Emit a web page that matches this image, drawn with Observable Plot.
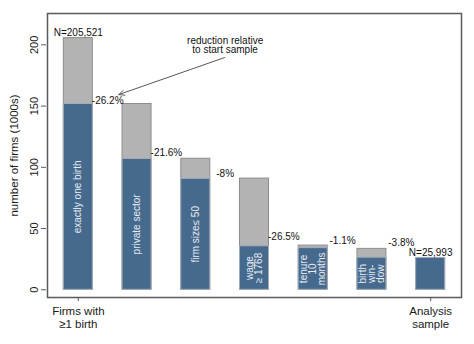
<!DOCTYPE html>
<html><head><meta charset="utf-8">
<script src="https://cdn.jsdelivr.net/npm/d3@7"></script>
<script src="https://cdn.jsdelivr.net/npm/@observablehq/plot@0.6"></script>
<style>
body{margin:0;background:#fff}
svg{font-family:"Liberation Sans",Arial,Helvetica,sans-serif}
</style>
</head><body><div id="chart"></div>
<script>
// Data (values in 1000s of firms)
const steps = ["exactly one birth", "private sector", "firm size≤ 50", "wage\n≥ 1768", "tenure\n10\nmonths", "birth\nwin-\ndow", ""];
const totals = [205.5, 151.7, 107.0, 90.8, 36.1, 33.4, 26.0];
const remaining = [151.7, 106.8, 90.6, 35.5, 34.0, 26.2, 26.0];
const reductions = ["-26.2%", "-21.6%", "-8%", "-26.5%", "-1.1%", "-3.8%"];
// height (in 1000s) at which each reduction label sits
const reductionLabelAt = [154.5, 111.7, 94.9, 43.5, 40.2, 38.6];
const nLabels = ["N=205,521", "", "", "", "", "", "N=25,993"];
const xTickLabels = ["Firms with\n≥1 birth", "Analysis\nsample"];
const yTicks = [0, 50, 100, 150, 200];
const yTitle = "number of firms (1000s)";
const noteText = "reduction relative\nto start sample";
// annotation anchor points (data units)
const note = {x: 2.5, y: 199.5};
const arrowFrom = {x: 2.49, y: 189.6};
const arrowTo = {x: 0.69, y: 159.4};

const rows = totals.map((t, i) => ({i, total: t, remaining: remaining[i], step: steps[i], n: nLabels[i]}));
const gaps = reductions.map((r, i) => ({x: i + 0.5, y: reductionLabelAt[i], label: r}));
const hw = 0.247;

const chart = Plot.plot({
  width: 474, height: 344,
  marginLeft: 47, marginRight: 13, marginTop: 13, marginBottom: 47,
  x: {domain: [-0.525, 6.525]},
  y: {domain: [-6.3, 225.6]},
  style: {fontFamily: '"Liberation Sans", Arial, sans-serif', color: "#1a1a1a", background: "white"},
  marks: [
    Plot.rectY(rows, {x1: d => d.i - hw, x2: d => d.i + hw, y1: d => 0, y2: "total", fill: "#b3b3b3", stroke: "#8e8e8e", strokeWidth: 1}),
    Plot.rectY(rows, {x1: d => d.i - hw, x2: d => d.i + hw, y1: d => 0, y2: "remaining", fill: "#46698e", stroke: "#a2acb7", strokeWidth: 1}),
    Plot.text(rows, {x: "i", y: d => d.remaining / 2, text: "step", rotate: -90, fill: "#e8edf2", fontSize: 10, lineHeight: 0.9}),
    Plot.text(rows, {x: "i", y: "total", text: "n", lineAnchor: "bottom", dy: -2, fontSize: 10, fill: "#111"}),
    Plot.text(gaps, {x: "x", y: "y", text: "label", fontSize: 10, fill: "#111"}),
    Plot.text([note], {x: "x", y: "y", text: d => noteText, fontSize: 10, lineHeight: 0.97, fill: "#111"}),
    Plot.arrow([0], {x1: d => arrowFrom.x, y1: d => arrowFrom.y, x2: d => arrowTo.x, y2: d => arrowTo.y, stroke: "#555", strokeWidth: 1, headLength: 9, headAngle: 50}),
    Plot.frame({stroke: "#5a5a5a", strokeWidth: 1.5}),
    Plot.axisY({ticks: yTicks, tickSize: 5, tickRotate: -90, fontSize: 11, label: null, stroke: "#5a5a5a", dx: -1}),
    Plot.text([yTitle], {frameAnchor: "left", text: d => d, rotate: -90, textAnchor: "middle", lineAnchor: "top", dx: -37.5, fontSize: 11.5, fill: "#1a1a1a"}),
    Plot.axisX({ticks: [0, 6], tickFormat: v => v === 0 ? xTickLabels[0] : xTickLabels[1], tickSize: 4, fontSize: 11.5, lineHeight: 1.08, label: null, stroke: "#5a5a5a"})
  ]
});
document.getElementById("chart").appendChild(chart);
</script>
</body></html>
